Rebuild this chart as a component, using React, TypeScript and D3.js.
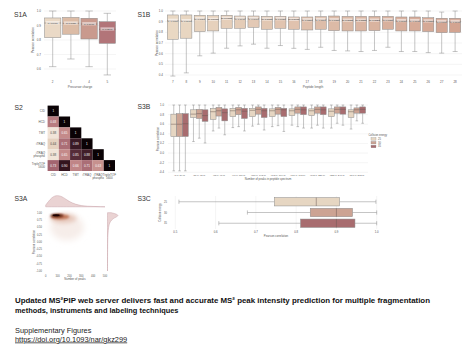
import React from 'react';
import * as d3 from 'd3';

// ---------- S1A data ----------
const chargeCats = ['2', '3', '4', '5'];
const chargeLo = [0.616, 0.669, 0.616, 0.559];
const chargeQ1 = [0.816, 0.840, 0.807, 0.777];
const chargeMed = [0.917, 0.915, 0.910, 0.874];
const chargeQ3 = [0.952, 0.956, 0.950, 0.926];
const chargeHi = [1.0, 1.0, 1.0, 0.984];
const chargeColors = ['#ead9c6', '#dcbca6', '#c99a8e', '#b27579'];
const s1aTicks = [0.6, 0.7, 0.8, 0.9, 1.0];

// ---------- S1B data ----------
const lengthCats = d3.range(7, 29).map(String);
const lenLo = [0.39, 0.42, 0.58, 0.605, 0.651, 0.673, 0.689, 0.651, 0.676, 0.65, 0.64, 0.66, 0.63, 0.626, 0.62, 0.63, 0.66, 0.62, 0.62, 0.61, 0.605, 0.62];
const lenQ1 = [0.735, 0.745, 0.807, 0.813, 0.838, 0.838, 0.847, 0.829, 0.838, 0.829, 0.822, 0.829, 0.816, 0.813, 0.813, 0.816, 0.829, 0.813, 0.813, 0.807, 0.797, 0.80];
const lenMed = [0.91, 0.907, 0.925, 0.92, 0.93, 0.928, 0.928, 0.922, 0.925, 0.92, 0.915, 0.918, 0.915, 0.912, 0.912, 0.912, 0.915, 0.908, 0.908, 0.905, 0.9, 0.9];
const lenQ3 = [0.963, 0.963, 0.96, 0.956, 0.96, 0.953, 0.953, 0.95, 0.95, 0.944, 0.944, 0.948, 0.953, 0.95, 0.95, 0.95, 0.95, 0.944, 0.944, 0.937, 0.932, 0.932];
const lenHi = [1, 1, 1, 1, 1, 1, 1, 1, 1, 1, 1, 1, 1, 1, 1, 1, 1, 1, 1, 1, 0.99, 1];
const s1bTicks = [0.4, 0.5, 0.6, 0.7, 0.8, 0.9, 1.0];

// ---------- S2 data ----------
const models = ['CID', 'HCD', 'TMT', 'iTRAQ', 'iTRAQ phospho', 'TripleTOF 5600'];
const corrRows = [
  [1],
  [0.68, 1],
  [0.38, 0.65, 1],
  [0.44, 0.71, 0.89, 1],
  [0.38, 0.65, 0.85, 0.88, 1],
  [0.73, 0.90, 0.66, 0.71, 0.63, 1],
];

// ---------- S3B data ----------
const energies = ['25', '30', '35'];
const energyColors = ['#e6d6c2', '#cca393', '#a86c6f'];
const binLabels = ['(1.0, 39.0]', '(39.0, 65.0]', '(65.0, 91.0]', '(91.0, 117.0]', '(117.0, 143.0]', '(143.0, 169.0]', '(169.0, 195.0]', '(195.0, 221.0]', '(221.0, 247.0]', '(247.0, 273.0]'];
const binLo = [
  [-0.37, 0.24, 0.46, 0.53, 0.56, 0.55, 0.58, 0.52, 0.52, 0.50],
  [-0.37, 0.31, 0.52, 0.55, 0.60, 0.57, 0.55, 0.58, 0.62, 0.67],
  [-0.37, 0.21, 0.38, 0.46, 0.48, 0.45, 0.52, 0.52, 0.58, 0.62],
];
const binQ1 = [
  [0.345, 0.74, 0.70, 0.76, 0.76, 0.76, 0.78, 0.78, 0.76, 0.74],
  [0.345, 0.72, 0.77, 0.80, 0.81, 0.81, 0.83, 0.83, 0.83, 0.83],
  [0.345, 0.66, 0.67, 0.72, 0.74, 0.76, 0.80, 0.80, 0.81, 0.83],
];
const binMed = [
  [0.60, 0.81, 0.86, 0.88, 0.89, 0.88, 0.88, 0.88, 0.87, 0.86],
  [0.60, 0.82, 0.88, 0.90, 0.91, 0.91, 0.91, 0.91, 0.91, 0.90],
  [0.61, 0.78, 0.84, 0.87, 0.88, 0.90, 0.90, 0.90, 0.91, 0.91],
];
const binQ3 = [
  [0.81, 0.90, 0.93, 0.93, 0.93, 0.92, 0.92, 0.92, 0.92, 0.90],
  [0.82, 0.91, 0.95, 0.95, 0.96, 0.95, 0.96, 0.96, 0.96, 0.94],
  [0.82, 0.90, 0.92, 0.93, 0.93, 0.93, 0.96, 0.96, 0.96, 0.96],
];
const binHi = [1.0, 1.0, 1.0];
const s3bTicks = [-0.4, -0.2, 0.0, 0.2, 0.4, 0.6, 0.8, 1.0];

// ---------- S3A data ----------
const peakTicks = [0, 100, 200, 300, 400, 500];
const corrTicks = [-1, -0.75, -0.5, -0.25, 0, 0.25, 0.5, 0.75, 1];
const topMarginal: [number, number][] = [[0, 0.15], [25, 0.5], [50, 0.8], [75, 0.96], [100, 1.0], [125, 0.95], [150, 0.82], [175, 0.64], [200, 0.46], [250, 0.22], [300, 0.1], [350, 0.05], [400, 0.03], [450, 0.015], [500, 0.0]];
const rightMarginal: [number, number][] = [[1.0, 0.35], [0.95, 0.85], [0.9, 1.0], [0.85, 0.8], [0.8, 0.5], [0.7, 0.26], [0.6, 0.14], [0.4, 0.06], [0.2, 0.03], [0.0, 0.015], [-0.5, 0.005], [-1.0, 0]];
const densityBlobs = [
  { x: 180, y: 0.5, rx: 140, ry: 0.45, c: '#f6ede9', blur: 3 },
  { x: 150, y: 0.8, rx: 110, ry: 0.16, c: '#e6c8bb', blur: 2 },
  { x: 120, y: 0.86, rx: 80, ry: 0.09, c: '#c2785a', blur: 1.2 },
  { x: 95, y: 0.9, rx: 55, ry: 0.055, c: '#4a1406', blur: 0.9 },
  { x: 88, y: 0.91, rx: 30, ry: 0.035, c: '#1e0500', blur: 0.6 },
];

// ---------- S3C data ----------
const s3cLo = [0.509, 0.679, 0.608];
const s3cQ1 = [0.746, 0.835, 0.811];
const s3cMed = [0.85, 0.90, 0.90];
const s3cQ3 = [0.908, 0.94, 0.946];
const s3cHi = [0.998, 1.0, 1.0];
const s3cTicks = [0.5, 0.6, 0.7, 0.8, 0.9, 1.0];

const FONT = "'Liberation Sans', Arial, sans-serif";
const GRID = '#e6e6e6';
const EDGE = '#8a8a8a';
const TICK = '#555';

type Stats = { lo: number; q1: number; med: number; q3: number; hi: number };

function VBox({ cx, w, y, s, fill, k, label }: { cx: number; w: number; y: d3.ScaleLinear<number, number>; s: Stats; fill: string; k: string; label?: string }) {
  const cap = w * 0.45;
  return (
    <g key={k}>
      <line x1={cx} x2={cx} y1={y(s.hi)} y2={y(s.q3)} stroke={EDGE} strokeWidth={0.5} />
      <line x1={cx} x2={cx} y1={y(s.q1)} y2={y(s.lo)} stroke={EDGE} strokeWidth={0.5} />
      <line x1={cx - cap / 2} x2={cx + cap / 2} y1={y(s.hi)} y2={y(s.hi)} stroke={EDGE} strokeWidth={0.5} />
      <line x1={cx - cap / 2} x2={cx + cap / 2} y1={y(s.lo)} y2={y(s.lo)} stroke={EDGE} strokeWidth={0.5} />
      <rect x={cx - w / 2} y={y(s.q3)} width={w} height={y(s.q1) - y(s.q3)} fill={fill} stroke={EDGE} strokeWidth={0.5} />
      <line x1={cx - w / 2} x2={cx + w / 2} y1={y(s.med)} y2={y(s.med)} stroke="#6d5a55" strokeWidth={0.5} />
      {label && (
        <g>
          <rect x={cx - w * 0.42} y={y(s.med) - 1.9} width={w * 0.84} height={3.2} fill="#ffffff" fillOpacity={0.55} />
          <text x={cx} y={y(s.med) + 0.9} fontSize={2.4} textAnchor="middle" fill="#333" fontFamily={FONT}>{label}</text>
        </g>
      )}
    </g>
  );
}

export default function App() {
  // S1A
  const yA = d3.scaleLinear().domain([0.6, 1.0]).range([69, 11]);
  const xA = d3.scaleBand().domain(chargeCats).range([44.5, 115.5]).paddingInner(0.1);
  // S1B
  const yB = d3.scaleLinear().domain([0.4, 1.0]).range([75, 11]);
  const xB = d3.scaleBand().domain(lengthCats).range([167.3, 460.7]).paddingInner(0.17);
  // S2
  const hx = d3.scaleBand().domain(models).range([47.6, 115]);
  const hy = d3.scaleBand().domain(models).range([105.6, 171]);
  const heatColor = d3.scaleLinear<string>().domain([0.35, 0.5, 0.65, 0.75, 0.9, 1.0]).range(['#f6ede4', '#dcc0a8', '#c48a8a', '#9b5c69', '#33141f', '#0a0205']);
  // S3B
  const y3b = d3.scaleLinear().domain([-0.4, 1.0]).range([172.3, 105]);
  const x3b = d3.scaleBand().domain(binLabels).range([169.7, 366.7]);
  const hue3b = d3.scaleBand().domain(energies).range([-8.7, 8.7]);
  // S3A
  const x3a = d3.scaleLinear().domain([0, 500]).range([45.7, 105]);
  const y3a = d3.scaleLinear().domain([-1, 1]).range([271, 212.7]);
  const topH = d3.scaleLinear().domain([0, 1]).range([206.8, 195.5]);
  const rightW = d3.scaleLinear().domain([0, 1]).range([107.5, 118.5]);
  // S3C
  const x3c = d3.scaleLinear().domain([0.5, 1.0]).range([175.3, 376.7]);
  const y3c = d3.scaleBand().domain(energies).range([196.5, 228.5]).paddingInner(0.22).paddingOuter(0.1);

  const topArea = d3.area<[number, number]>().x(d => x3a(d[0])).y0(topH(0)).y1(d => topH(d[1])).curve(d3.curveBasis);
  const rightArea = d3.area<[number, number]>().y(d => y3a(d[0])).x0(rightW(0)).x1(d => rightW(d[1])).curve(d3.curveBasis);
  const fmt4 = d3.format('.4f');

  const panelLabel = (t: string, x: number, y: number) => (
    <text x={x} y={y} fontSize={6.8} fontFamily={FONT} fill="#333">{t}</text>
  );

  return (
    <svg width={474} height={355} style={{ position: 'absolute', left: 0, top: 0, background: '#fff' }} fontFamily={FONT}>
      <defs>
        {densityBlobs.map((b, i) => (
          <filter key={i} id={`blur${i}`} x="-50%" y="-50%" width="200%" height="200%">
            <feGaussianBlur stdDeviation={b.blur} />
          </filter>
        ))}
        <clipPath id="clip3a"><rect x={45} y={210} width={63} height={64} /></clipPath>
      </defs>
      <rect width={474} height={355} fill="#fff" />

      {/* ===== S1A ===== */}
      {panelLabel('S1A', 14, 16.8)}
      {s1aTicks.map(t => (
        <g key={t}>
          <line x1={44} x2={116} y1={yA(t)} y2={yA(t)} stroke={GRID} strokeWidth={0.4} />
          <text x={41} y={yA(t) + 1} fontSize={3} textAnchor="end" fill={TICK}>{t.toFixed(1)}</text>
        </g>
      ))}
      {chargeCats.map((c, i) => (
        <VBox key={c} k={c} cx={xA(c)! + xA.bandwidth() / 2} w={xA.bandwidth()} y={yA}
          s={{ lo: chargeLo[i], q1: chargeQ1[i], med: chargeMed[i], q3: chargeQ3[i], hi: chargeHi[i] }}
          fill={chargeColors[i]} label={`μ: ${fmt4(chargeMed[i] - 0.02)}`} />
      ))}
      {chargeCats.map(c => (
        <text key={c} x={xA(c)! + xA.bandwidth() / 2} y={82.5} fontSize={3} textAnchor="middle" fill={TICK}>{c}</text>
      ))}
      <text x={80} y={88} fontSize={3.2} textAnchor="middle" fill={TICK}>Precursor charge</text>
      <text transform={`translate(33.5,40) rotate(-90)`} fontSize={3} textAnchor="middle" fill={TICK}>Pearson correlation</text>

      {/* ===== S1B ===== */}
      {panelLabel('S1B', 137.5, 16.5)}
      {s1bTicks.map(t => (
        <g key={t}>
          <line x1={165} x2={462} y1={yB(t)} y2={yB(t)} stroke={GRID} strokeWidth={0.4} />
          <text x={163} y={yB(t) + 1} fontSize={3} textAnchor="end" fill={TICK}>{t.toFixed(1)}</text>
        </g>
      ))}
      {lengthCats.map((c, i) => (
        <VBox key={c} k={c} cx={xB(c)! + xB.bandwidth() / 2} w={xB.bandwidth()} y={yB}
          s={{ lo: lenLo[i], q1: lenQ1[i], med: lenMed[i], q3: lenQ3[i], hi: lenHi[i] }}
          fill={d3.interpolateRgb('#e9d8c3', '#d3a491')(i / (lengthCats.length - 1))} label={`μ: ${fmt4(lenMed[i] - 0.03)}`} />
      ))}
      {lengthCats.map(c => (
        <text key={c} x={xB(c)! + xB.bandwidth() / 2} y={82.5} fontSize={3} textAnchor="middle" fill={TICK}>{c}</text>
      ))}
      <text x={313} y={88} fontSize={3.2} textAnchor="middle" fill={TICK}>Peptide length</text>
      <text transform={`translate(157.5,43) rotate(-90)`} fontSize={3} textAnchor="middle" fill={TICK}>Pearson correlation</text>

      {/* ===== S2 ===== */}
      {panelLabel('S2', 14.5, 109.5)}
      {corrRows.map((row, ri) => row.map((v, ci) => (
        <g key={`${ri}-${ci}`}>
          <rect x={hx(models[ci])!} y={hy(models[ri])!} width={hx.bandwidth()} height={hy.bandwidth()} fill={heatColor(v)} />
          <text x={hx(models[ci])! + hx.bandwidth() / 2} y={hy(models[ri])! + hy.bandwidth() / 2 + 1} fontSize={3} textAnchor="middle"
            fill={v > 0.55 ? '#fff' : '#444'}>{v === 1 ? '1' : v.toFixed(2)}</text>
        </g>
      )))}
      {models.map(m => {
        const parts = m.split(' ');
        const cy = hy(m)! + hy.bandwidth() / 2;
        return (
          <g key={m}>
            <text x={45} y={cy + 1 - (parts.length - 1) * 1.7} fontSize={3} textAnchor="end" fill={TICK}>
              {parts.map((p, j) => <tspan key={j} x={45} dy={j === 0 ? 0 : 3.4}>{p}</tspan>)}
            </text>
            <text x={hx(m)! + hx.bandwidth() / 2} y={175.5} fontSize={3} textAnchor="middle" fill={TICK}>
              {parts.map((p, j) => <tspan key={j} x={hx(m)! + hx.bandwidth() / 2} dy={j === 0 ? 0 : 3.4}>{p}</tspan>)}
            </text>
          </g>
        );
      })}

      {/* ===== S3B ===== */}
      {panelLabel('S3B', 137.5, 108.5)}
      {s3bTicks.map(t => (
        <g key={t}>
          <line x1={168} x2={368} y1={y3b(t)} y2={y3b(t)} stroke={GRID} strokeWidth={0.4} />
          <text x={164} y={y3b(t) + 1} fontSize={2.8} textAnchor="end" fill={TICK}>{t.toFixed(1)}</text>
        </g>
      ))}
      {binLabels.map((b, gi) => energies.map((e, ei) => (
        <VBox key={`${gi}-${ei}`} k={`${gi}-${ei}`} cx={x3b(b)! + x3b.bandwidth() / 2 + hue3b(e)! + hue3b.bandwidth() / 2} w={hue3b.bandwidth()} y={y3b}
          s={{ lo: binLo[ei][gi], q1: binQ1[ei][gi], med: binMed[ei][gi], q3: binQ3[ei][gi], hi: binHi[ei] }} fill={energyColors[ei]} />
      )))}
      {binLabels.map(b => (
        <text key={b} x={x3b(b)! + x3b.bandwidth() / 2} y={176} fontSize={2.4} textAnchor="middle" fill={TICK}>{b}</text>
      ))}
      <text x={268} y={180} fontSize={2.8} textAnchor="middle" fill={TICK}>Number of peaks in peptide spectrum</text>
      <text transform={`translate(158.5,139) rotate(-90)`} fontSize={2.8} textAnchor="middle" fill={TICK}>Pearson correlation</text>
      <text x={368.5} y={136} fontSize={2.6} fill={TICK}>Collision energy</text>
      {energies.map((e, i) => (
        <g key={e}>
          <rect x={371} y={137.6 + i * 3.8} width={5} height={2.6} fill={energyColors[i]} stroke={EDGE} strokeWidth={0.3} />
          <text x={378} y={139.8 + i * 3.8} fontSize={2.6} fill={TICK}>{e}</text>
        </g>
      ))}

      {/* ===== S3A ===== */}
      {panelLabel('S3A', 14.5, 201)}
      <path d={topArea(topMarginal)!} fill="#ead3d3" stroke="#c9a3a8" strokeWidth={0.5} />
      <path d={rightArea(rightMarginal)!} fill="#ead3d3" stroke="#c9a3a8" strokeWidth={0.5} />
      <g clipPath="url(#clip3a)">
        {densityBlobs.map((b, i) => (
          <ellipse key={i} cx={x3a(b.x)} cy={y3a(b.y)} rx={x3a(b.rx) - x3a(0)} ry={y3a(0) - y3a(b.ry)} fill={b.c} filter={`url(#blur${i})`} />
        ))}
      </g>
      {corrTicks.map(t => (
        <text key={t} x={42} y={y3a(t) + 1} fontSize={2.6} textAnchor="end" fill={TICK}>{t.toFixed(2)}</text>
      ))}
      {peakTicks.map(t => (
        <text key={t} x={x3a(t)} y={276.5} fontSize={2.6} textAnchor="middle" fill={TICK}>{t}</text>
      ))}
      <text x={75} y={280} fontSize={2.8} textAnchor="middle" fill={TICK}>Number of peaks</text>
      <text transform={`translate(34.5,242) rotate(-90)`} fontSize={2.8} textAnchor="middle" fill={TICK}>Pearson correlation</text>

      {/* ===== S3C ===== */}
      {panelLabel('S3C', 137.5, 201)}
      {s3cTicks.map(t => (
        <g key={t}>
          <line x1={x3c(t)} x2={x3c(t)} y1={196} y2={229} stroke={GRID} strokeWidth={0.4} />
          <text x={x3c(t)} y={232.5} fontSize={2.8} textAnchor="middle" fill={TICK}>{t.toFixed(1)}</text>
        </g>
      ))}
      {energies.map((e, i) => {
        const cy = y3c(e)! + y3c.bandwidth() / 2;
        const h = y3c.bandwidth();
        return (
          <g key={e}>
            <line x1={x3c(s3cLo[i])} x2={x3c(s3cQ1[i])} y1={cy} y2={cy} stroke={EDGE} strokeWidth={0.5} />
            <line x1={x3c(s3cQ3[i])} x2={x3c(s3cHi[i])} y1={cy} y2={cy} stroke={EDGE} strokeWidth={0.5} />
            <line x1={x3c(s3cLo[i])} x2={x3c(s3cLo[i])} y1={cy - h * 0.25} y2={cy + h * 0.25} stroke={EDGE} strokeWidth={0.5} />
            <line x1={x3c(s3cHi[i])} x2={x3c(s3cHi[i])} y1={cy - h * 0.25} y2={cy + h * 0.25} stroke={EDGE} strokeWidth={0.5} />
            <rect x={x3c(s3cQ1[i])} y={cy - h / 2} width={x3c(s3cQ3[i]) - x3c(s3cQ1[i])} height={h} fill={energyColors[i]} stroke={EDGE} strokeWidth={0.5} />
            <line x1={x3c(s3cMed[i])} x2={x3c(s3cMed[i])} y1={cy - h / 2} y2={cy + h / 2} stroke="#6d5a55" strokeWidth={0.5} />
            <text x={167} y={cy + 1} fontSize={2.6} textAnchor="end" fill={TICK}>{e}</text>
          </g>
        );
      })}
      <text x={276} y={236.5} fontSize={2.8} textAnchor="middle" fill={TICK}>Pearson correlation</text>
      <text transform={`translate(161,212.5) rotate(-90)`} fontSize={2.6} textAnchor="middle" fill={TICK}>Collision energy</text>

      {/* ===== Caption ===== */}
      <text x={15} y={303} fontSize={7.4} fontWeight="bold" fill="#111" textLength={415} lengthAdjust="spacingAndGlyphs">Updated MS²PIP web server delivers fast and accurate MS² peak intensity prediction for multiple fragmentation</text>
      <text x={15} y={313} fontSize={7.4} fontWeight="bold" fill="#111">methods, instruments and labeling techniques</text>
      <text x={15} y={332.5} fontSize={7.4} fill="#222">Supplementary Figures</text>
      <text x={15} y={341.5} fontSize={7.4} fill="#222" textDecoration="underline">https://doi.org/10.1093/nar/gkz299</text>
    </svg>
  );
}
